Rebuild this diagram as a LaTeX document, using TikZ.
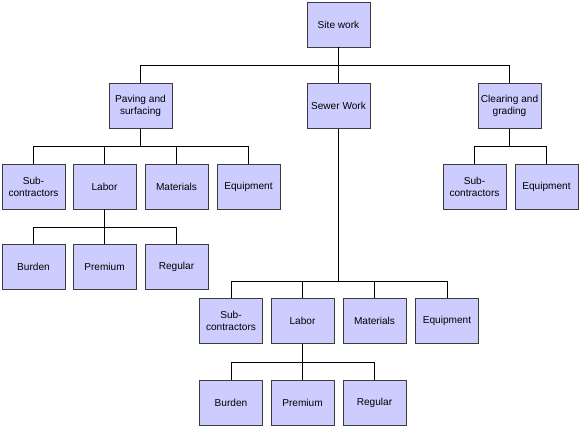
\documentclass[tikz,border=0pt]{standalone}
\usepackage{fontspec}
\setmainfont{Liberation Sans}
\definecolor{boxfill}{RGB}{204,204,255}
\definecolor{boxline}{RGB}{60,60,60}
\begin{document}
\begin{tikzpicture}[x=1pt,y=-1pt,
  box/.style={draw=boxline,fill=boxfill,line width=0.8pt,minimum width=63pt,minimum height=45pt,inner sep=1pt,align=center,font=\fontsize{10.1}{12}\selectfont},
  conn/.style={draw=black,line width=0.8pt}]
\useasboundingbox (0,0) rectangle (580,428);
% level 0
\node[box] (site) at (338.5,24.5) {Site work};
% level 1
\node[box] (pave) at (140.5,106) {Paving and\\surfacing};
\node[box] (sewer) at (338.5,106) {Sewer Work};
\node[box] (clear) at (509.5,106) {Clearing and\\grading};
% paving children
\node[box] (psub) at (33.5,186.5) {Sub-\\contractors};
\node[box] (plab) at (104.5,186.5) {Labor};
\node[box] (pmat) at (176.5,186.5) {Materials};
\node[box] (pequ) at (248.5,186.5) {Equipment};
\node[box] (pbur) at (33.5,266.5) {Burden};
\node[box] (ppre) at (104.5,266.5) {Premium};
\node[box] (preg) at (176.5,266.5) {Regular};
% clearing children
\node[box] (csub) at (474.5,186.5) {Sub-\\contractors};
\node[box] (cequ) at (546.5,186.5) {Equipment};
% sewer children
\node[box] (ssub) at (231,321) {Sub-\\contractors};
\node[box] (slab) at (302.5,321) {Labor};
\node[box] (smat) at (374.5,321) {Materials};
\node[box] (sequ) at (447,321) {Equipment};
\node[box] (sbur) at (231,403) {Burden};
\node[box] (spre) at (302.5,403) {Premium};
\node[box] (sreg) at (374.5,403) {Regular};
% bus coordinates
\coordinate (b0) at (338.5,65);
\coordinate (b1) at (140.5,146.5);
\coordinate (b2) at (104.5,227);
\coordinate (b3) at (509.5,146.5);
\coordinate (b4) at (338.5,281);
\coordinate (b5) at (302.5,362);
% connectors
\draw[conn] (site.south) -- (sewer.north);
\draw[conn] (b0) -| (pave.north);
\draw[conn] (b0) -| (clear.north);
\draw[conn] (pave.south) -- (b1);
\draw[conn] (b1) -| (psub.north);
\draw[conn] (b1) -| (plab.north);
\draw[conn] (b1) -| (pmat.north);
\draw[conn] (b1) -| (pequ.north);
\draw[conn] (plab.south) -- (b2);
\draw[conn] (b2) -| (pbur.north);
\draw[conn] (b2) -- (ppre.north);
\draw[conn] (b2) -| (preg.north);
\draw[conn] (clear.south) -- (b3);
\draw[conn] (b3) -| (csub.north);
\draw[conn] (b3) -| (cequ.north);
\draw[conn] (sewer.south) -- (b4);
\draw[conn] (b4) -| (ssub.north);
\draw[conn] (b4) -| (slab.north);
\draw[conn] (b4) -| (smat.north);
\draw[conn] (b4) -| (sequ.north);
\draw[conn] (slab.south) -- (b5);
\draw[conn] (b5) -| (sbur.north);
\draw[conn] (b5) -- (spre.north);
\draw[conn] (b5) -| (sreg.north);
\end{tikzpicture}
\end{document}
